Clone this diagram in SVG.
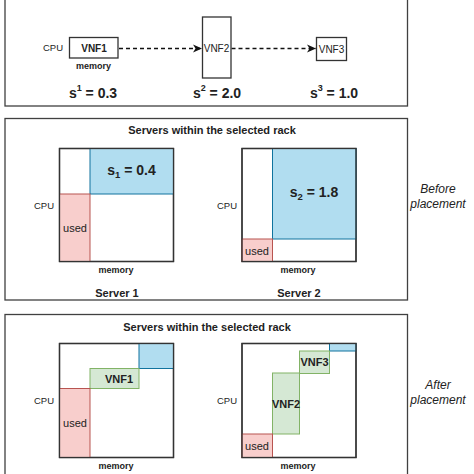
<svg xmlns="http://www.w3.org/2000/svg" width="474" height="474" viewBox="0 0 474 474">
<defs>
<style>
text{font-family:"Liberation Sans",Arial,sans-serif;fill:#222;text-anchor:middle;dominant-baseline:central}
.panel{fill:#fff;stroke:#404040;stroke-width:1.3}
.box{fill:#fff;stroke:#333;stroke-width:1.3}
.blue{fill:#b1ddf0;stroke:#10739e;stroke-width:1}
.red{fill:#f8cecc;stroke:#b85450;stroke-width:1}
.green{fill:#d5e8d4;stroke:#82b366;stroke-width:1}
.sm{font-size:9.5px}
.smb{font-size:9px;font-weight:bold}
.s{font-size:14px;font-weight:bold}
.t{font-size:11px;font-weight:bold}
.u{font-size:11px}
.lb{font-size:11px;font-weight:bold}
.it{font-size:12px;font-style:italic}
.edge{stroke:#111;stroke-width:1.3;stroke-dasharray:4 3;fill:none}
</style>
<marker id="ah" markerWidth="10" markerHeight="10" refX="9" refY="5" orient="auto" markerUnits="userSpaceOnUse">
<path d="M0,1 L9,5 L0,9 L2.5,5 Z" fill="#111"/>
</marker>
</defs>
<rect width="474" height="474" fill="#fff"/>

<g id="panel-top">
<rect class="panel" x="5" y="-1" width="402.5" height="107"/>
</g>
<g id="panel-before">
<rect class="panel" x="5" y="118.5" width="402.5" height="181.5"/>
<text class="t" x="212" y="130">Servers within the selected rack</text>
<text class="it" x="438" y="189">Before</text>
<text class="it" x="438" y="204">placement</text>
</g>
<g id="panel-after">
<rect class="panel" x="5" y="314.5" width="402.5" height="170"/>
<text class="t" x="207" y="326.5">Servers within the selected rack</text>
<text class="it" x="438" y="385">After</text>
<text class="it" x="438" y="399.5">placement</text>
</g>

<g id="connectors">
<line class="edge" x1="119" y1="48.5" x2="202" y2="48.5" marker-end="url(#ah)"/>
<line class="edge" x1="231.5" y1="48.5" x2="316" y2="48.5" marker-end="url(#ah)"/>
</g>

<g id="vnf1">
<rect class="box" x="69.5" y="37.5" width="48.5" height="20.5"/>
<text x="94" y="48" style="font-size:10px;font-weight:bold">VNF1</text>
<text class="sm" x="53" y="47.5">CPU</text>
<text class="smb" x="93.5" y="65.5">memory</text>
<text class="s" x="93" y="92.5">s<tspan dy="-5" style="font-size:9px">1</tspan><tspan dy="5"> = 0.3</tspan></text>
</g>
<g id="vnf2">
<rect class="box" x="202.5" y="17" width="28.5" height="61"/>
<text x="216.5" y="48.5" style="font-size:10px">VNF2</text>
<text class="s" x="217" y="92.5">s<tspan dy="-5" style="font-size:9px">2</tspan><tspan dy="5"> = 2.0</tspan></text>
</g>
<g id="vnf3">
<rect class="box" x="316.5" y="37.5" width="30" height="23"/>
<text x="331.5" y="49" style="font-size:10px">VNF3</text>
<text class="s" x="334" y="92.5">s<tspan dy="-5" style="font-size:9px">3</tspan><tspan dy="5"> = 1.0</tspan></text>
</g>

<g id="server1-before">
<rect class="box" x="59.5" y="148.5" width="114" height="113"/>
<rect class="blue" x="90" y="148.5" width="83.5" height="45.5"/>
<rect class="red" x="59.5" y="194" width="30.5" height="67.5"/>
<rect x="59.5" y="148.5" width="114" height="113" fill="none" stroke="#333" stroke-width="1.3"/>
<text class="s" x="131.5" y="170">s<tspan dy="4" style="font-size:9.5px">1</tspan><tspan dy="-4"> = 0.4</tspan></text>
<text class="u" x="75" y="228">used</text>
<text class="sm" x="44" y="205">CPU</text>
<text class="smb" x="116" y="269.5">memory</text>
<text class="lb" x="117" y="293">Server 1</text>
</g>
<g id="server2-before">
<rect class="box" x="242" y="148.5" width="114" height="113"/>
<rect class="blue" x="272.5" y="148.5" width="83.5" height="90.5"/>
<rect class="red" x="242" y="239" width="30.5" height="22.5"/>
<rect x="242" y="148.5" width="114" height="113" fill="none" stroke="#333" stroke-width="1.3"/>
<text class="s" x="314" y="191.5">s<tspan dy="4" style="font-size:9.5px">2</tspan><tspan dy="-4"> = 1.8</tspan></text>
<text class="u" x="257" y="250.5">used</text>
<text class="sm" x="227" y="205">CPU</text>
<text class="smb" x="298" y="269.5">memory</text>
<text class="lb" x="299" y="293">Server 2</text>
</g>

<g id="server1-after">
<rect class="box" x="59.5" y="343.5" width="114" height="114"/>
<rect class="blue" x="139" y="343.5" width="34.5" height="25"/>
<rect class="green" x="90" y="368.5" width="49" height="20"/>
<rect class="red" x="59.5" y="388.5" width="30.5" height="69"/>
<rect x="59.5" y="343.5" width="114" height="114" fill="none" stroke="#333" stroke-width="1.3"/>
<text class="t" x="119" y="378.5">VNF1</text>
<text class="u" x="75" y="423">used</text>
<text class="sm" x="44" y="400.5">CPU</text>
<text class="smb" x="116" y="465.5">memory</text>
</g>
<g id="server2-after">
<rect class="box" x="242" y="343.5" width="114" height="114"/>
<rect class="blue" x="329.5" y="343.5" width="26.5" height="7.5"/>
<rect class="green" x="299.5" y="351" width="30" height="22.5"/>
<rect class="green" x="272.5" y="373" width="27" height="61"/>
<rect class="red" x="242" y="434" width="30.5" height="23.5"/>
<rect x="242" y="343.5" width="114" height="114" fill="none" stroke="#333" stroke-width="1.3"/>
<text class="t" x="314.5" y="362">VNF3</text>
<text class="t" x="286" y="404">VNF2</text>
<text class="u" x="257" y="446">used</text>
<text class="sm" x="227" y="400.5">CPU</text>
<text class="smb" x="298" y="465.5">memory</text>
</g>
</svg>
